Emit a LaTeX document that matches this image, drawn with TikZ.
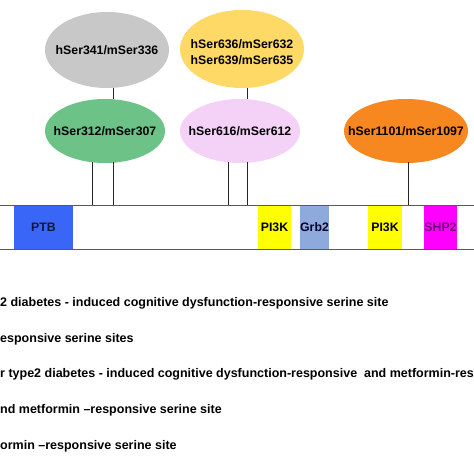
\documentclass[tikz,border=0pt]{standalone}
\usepackage{fontspec}
\setmainfont{Liberation Sans}
\usetikzlibrary{shapes.geometric,calc}

\definecolor{sergray}{HTML}{C8C8C8}
\definecolor{seryellow}{HTML}{FFD966}
\definecolor{sergreen}{HTML}{6DC288}
\definecolor{serpink}{HTML}{F4D2F8}
\definecolor{serorange}{HTML}{F7871F}
\definecolor{ptbblue}{HTML}{3A66F7}
\definecolor{grbblue}{HTML}{8EA9DB}
\definecolor{shpmag}{HTML}{FF00FF}
\definecolor{pi3kyel}{HTML}{FFFF00}

\begin{document}
\begin{tikzpicture}[
  x=1pt, y=-1pt,
  font=\bfseries\fontsize{12.3}{16}\selectfont,
  site/.style={ellipse, draw=none, inner sep=0pt},
  sitetext/.style={align=center, inner sep=0pt},
  dom/.style={draw=none, inner sep=0pt, minimum height=44pt},
  stem/.style={draw=black!85, line width=1pt},
  rail/.style={draw=black!65, line width=0.9pt},
  key/.style={inner sep=0pt, anchor=base west, font=\bfseries\fontsize{12.5}{16}\selectfont}
]
\useasboundingbox (0,0) rectangle (474,474);

% phosphorylation sites
\node[site, fill=sergray, minimum width=124pt, minimum height=76pt] (s341) at (107,50) {};
\node[site, fill=seryellow, minimum width=124pt, minimum height=78pt] (s636) at (242,49) {};
\node[site, fill=sergreen, minimum width=120pt, minimum height=64pt] (s312) at (105,131) {};
\node[site, fill=serpink, minimum width=120pt, minimum height=64pt] (s616) at (240,131) {};
\node[site, fill=serorange, minimum width=124pt, minimum height=64pt] (s1101) at (406,131) {};

\node[sitetext] (t341) at (s341) {hSer341/mSer336};
\node[sitetext] (t636) at ($(s636)+(0,3)$) {hSer636/mSer632\\hSer639/mSer635};
\node[sitetext] (t312) at (s312) {hSer312/mSer307};
\node[sitetext] (t616) at (s616) {hSer616/mSer612};
\node[sitetext] (t1101) at (s1101) {hSer1101/mSer1097};

% domains
\node[dom, fill=ptbblue, minimum width=59pt, text=ptbblue!25!black] (ptb) at (43.5,227) {PTB};
\node[dom, fill=pi3kyel, minimum width=33pt] (pi3ka) at (274.5,227) {PI3K};
\node[dom, fill=grbblue, minimum width=23pt, text=black!85!blue] (grb2) at (314.5,227) {Grb2};
\node[dom, fill=pi3kyel, minimum width=34pt] (pi3kb) at (385,227) {PI3K};
\node[dom, fill=shpmag, minimum width=33pt, text=shpmag!45!black] (shp2) at (440.5,227) {SHP2};

% receptor bar
\coordinate (barL) at (0,205);
\coordinate (barR) at (474,205);
\draw[rail] (barL) -- (barR);
\draw[rail] ($(barL)+(0,44)$) -- ($(barR)+(0,44)$);

\coordinate (p1) at (92,205);
\coordinate (p2) at (113,205);
\coordinate (p3) at (228,205);
\coordinate (p4) at (247,205);
\coordinate (p5) at (408,205);

\draw[stem] (p2 |- s341.south) -- (p2 |- s312.north);
\draw[stem] (p4 |- s636.south) -- (p4 |- s616.north);
\draw[stem] ($(p1 |- s312.south)+(0,-1)$) -- (p1);
\draw[stem] ($(p2 |- s312.south)+(0,-1)$) -- (p2);
\draw[stem] ($(p3 |- s616.south)+(0,-1)$) -- (p3);
\draw[stem] ($(p4 |- s616.south)+(0,-1)$) -- (p4);
\draw[stem] ($(p5 |- s1101.south)+(0,-1)$) -- (p5);

% legend
\node[key] (k1) at (0,306) {2 diabetes - induced cognitive dysfunction-responsive serine site};
\node[key] (k2) at (0,342) {esponsive serine sites};
\node[key] (k3) at (0,377) {r type2 diabetes - induced cognitive dysfunction-responsive \ and metformin-res};
\node[key] (k4) at (0,413) {nd metformin --responsive serine site};
\node[key] (k5) at (0,449) {ormin --responsive serine site};
\end{tikzpicture}
\end{document}
